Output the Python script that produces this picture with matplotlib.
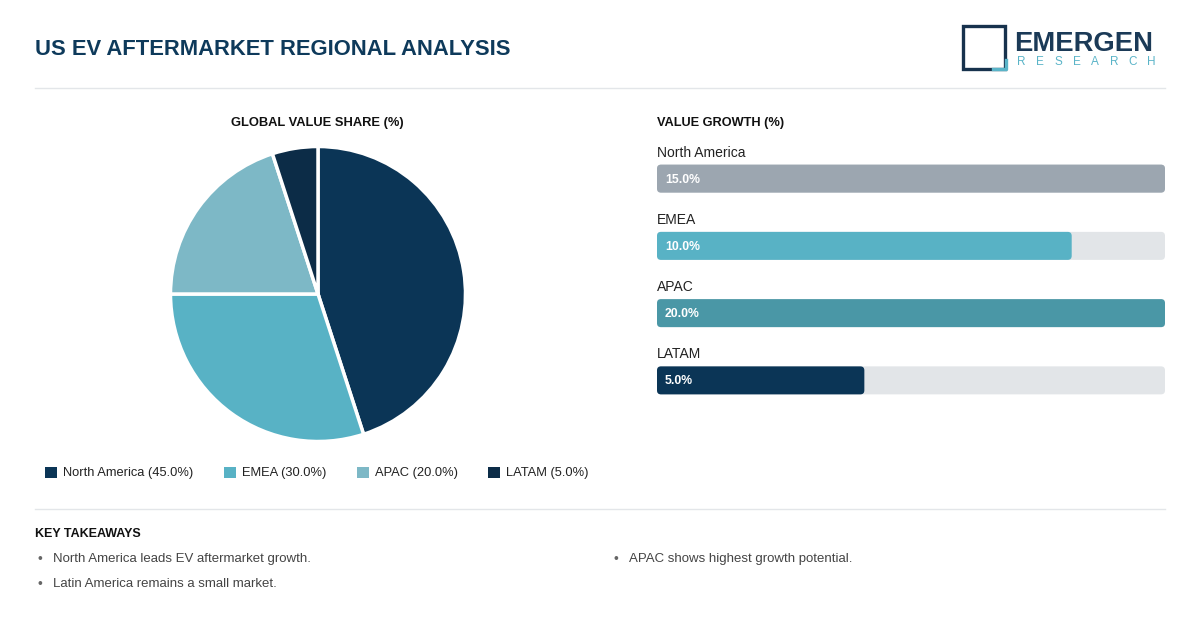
import numpy as np
import matplotlib.pyplot as plt
from matplotlib.patches import FancyBboxPatch, Rectangle, Patch
from matplotlib.lines import Line2D

plt.rcParams['font.family'] = ['Liberation Sans', 'DejaVu Sans']

# data
regions = ['North America', 'EMEA', 'APAC', 'LATAM']
share = [45.0, 30.0, 20.0, 5.0]
growth = [15.0, 10.0, 20.0, 5.0]
pie_colors = ['#0b3556', '#58b2c5', '#7db8c6', '#0c2c47']
bar_colors = ['#9ca6b0', '#58b2c5', '#4a97a6', '#0b3556']
takeaways_left = ['North America leads EV aftermarket growth.',
                  'Latin America remains a small market.']
takeaways_right = ['APAC shows highest growth potential.']
scale_max = 12.25  # growth value that fills the whole track

W, H = 1200, 620
fig = plt.figure(figsize=(W / 100, H / 100), dpi=100)


def fx(px):
    return px / W


def fy(py):
    return 1 - py / H


# header
fig.text(fx(35), fy(55), 'US EV AFTERMARKET REGIONAL ANALYSIS', fontsize=15.8,
         fontweight='bold', color='#0e3a5b', va='baseline')
for yy in (88, 509):
    fig.add_artist(Line2D([fx(35), fx(1165)], [fy(yy), fy(yy)], color='#e3e6e9', lw=1))

# logo
fig.add_artist(Rectangle((fx(963.5), fy(68.5)), 42 / W, 42 / H, fill=False,
                         ec='#17324d', lw=2.4))
fig.add_artist(Line2D([fx(993), fx(1005.5), fx(1005.5)], [fy(68.5), fy(68.5), fy(60)],
                      color='#5ab4c8', lw=2.4))
fig.text(fx(1014), fy(51), 'EMERGEN', fontsize=19.7, fontweight='bold', color='#1b3a57',
         va='baseline')
for ch, xx in zip('RESEARCH', np.linspace(1021, 1151, 8)):
    fig.text(fx(xx), fy(65), ch, fontsize=8.5, color='#5ab4c8', ha='center',
             va='baseline')

# pie
fig.text(fx(317), fy(123), 'GLOBAL VALUE SHARE (%)', fontsize=9.3, fontweight='bold',
         color='#111111', ha='center', va='center')
ax_pie = fig.add_axes([fx(170.5), fy(441.5), 295 / W, 295 / H])
ax_pie.pie(share, colors=pie_colors, startangle=90, counterclock=False,
           wedgeprops=dict(edgecolor='white', linewidth=2.5))
ax_pie.set_xlim(-1.0, 1.0)
ax_pie.set_ylim(-1.0, 1.0)
ax_pie.set_aspect('equal')

handles = [Patch(facecolor=c, edgecolor='none') for c in pie_colors]
labels = [f'{r} ({s:.1f}%)' for r, s in zip(regions, share)]
fig.legend(handles, labels, ncol=4, loc='center left', bbox_to_anchor=(fx(45), fy(473)),
           frameon=False, fontsize=9.3, handlelength=0.93, handleheight=0.93,
           handletextpad=0.47, columnspacing=2.36, borderpad=0, borderaxespad=0,
           labelcolor='#222222')

# growth bars
fig.text(fx(657), fy(123), 'VALUE GROWTH (%)', fontsize=9.2, fontweight='bold',
         color='#111111', va='center')
ax_w, ax_h = 508, 269
ax_bar = fig.add_axes([fx(657), fy(145 + ax_h), ax_w / W, ax_h / H])
ax_bar.set_xlim(0, scale_max)
ax_bar.set_ylim(len(regions) - 0.5, -0.5)
ax_bar.axis('off')
px_x = ax_w / scale_max
px_y = ax_h / len(regions)
bh = 28 / px_y
rad = 4 / px_x
asp = px_x / px_y
for i, (name, v, c) in enumerate(zip(regions, growth, bar_colors)):
    ax_bar.add_patch(FancyBboxPatch((0, i - bh / 2), scale_max, bh,
                                    boxstyle=f'round,pad=0,rounding_size={rad}',
                                    mutation_aspect=asp, fc='#e2e5e8', ec='none'))
    ax_bar.add_patch(FancyBboxPatch((0, i - bh / 2), min(v, scale_max), bh,
                                    boxstyle=f'round,pad=0,rounding_size={rad}',
                                    mutation_aspect=asp, fc=c, ec='none'))
    ax_bar.text(8 / px_x, i + 1 / px_y, f'{v:.1f}%', fontsize=8.8, fontweight='bold',
                color='white', va='center')
    ax_bar.text(0, i - 26 / px_y, name, fontsize=10, color='#222222', va='center')

# takeaways
fig.text(fx(35), fy(534), 'KEY TAKEAWAYS', fontsize=9, fontweight='bold',
         color='#111111', va='center')
for col_x, items in ((35, takeaways_left), (611, takeaways_right)):
    for k, t in enumerate(items):
        yy = 559 + 25 * k
        fig.text(fx(col_x + 2.5), fy(yy), '\u2022', fontsize=10, color='#666666',
                 va='center')
        fig.text(fx(col_x + 18), fy(yy), t, fontsize=9.5, color='#444444', va='center')

fig.savefig('out.png', dpi=100, facecolor='white')
